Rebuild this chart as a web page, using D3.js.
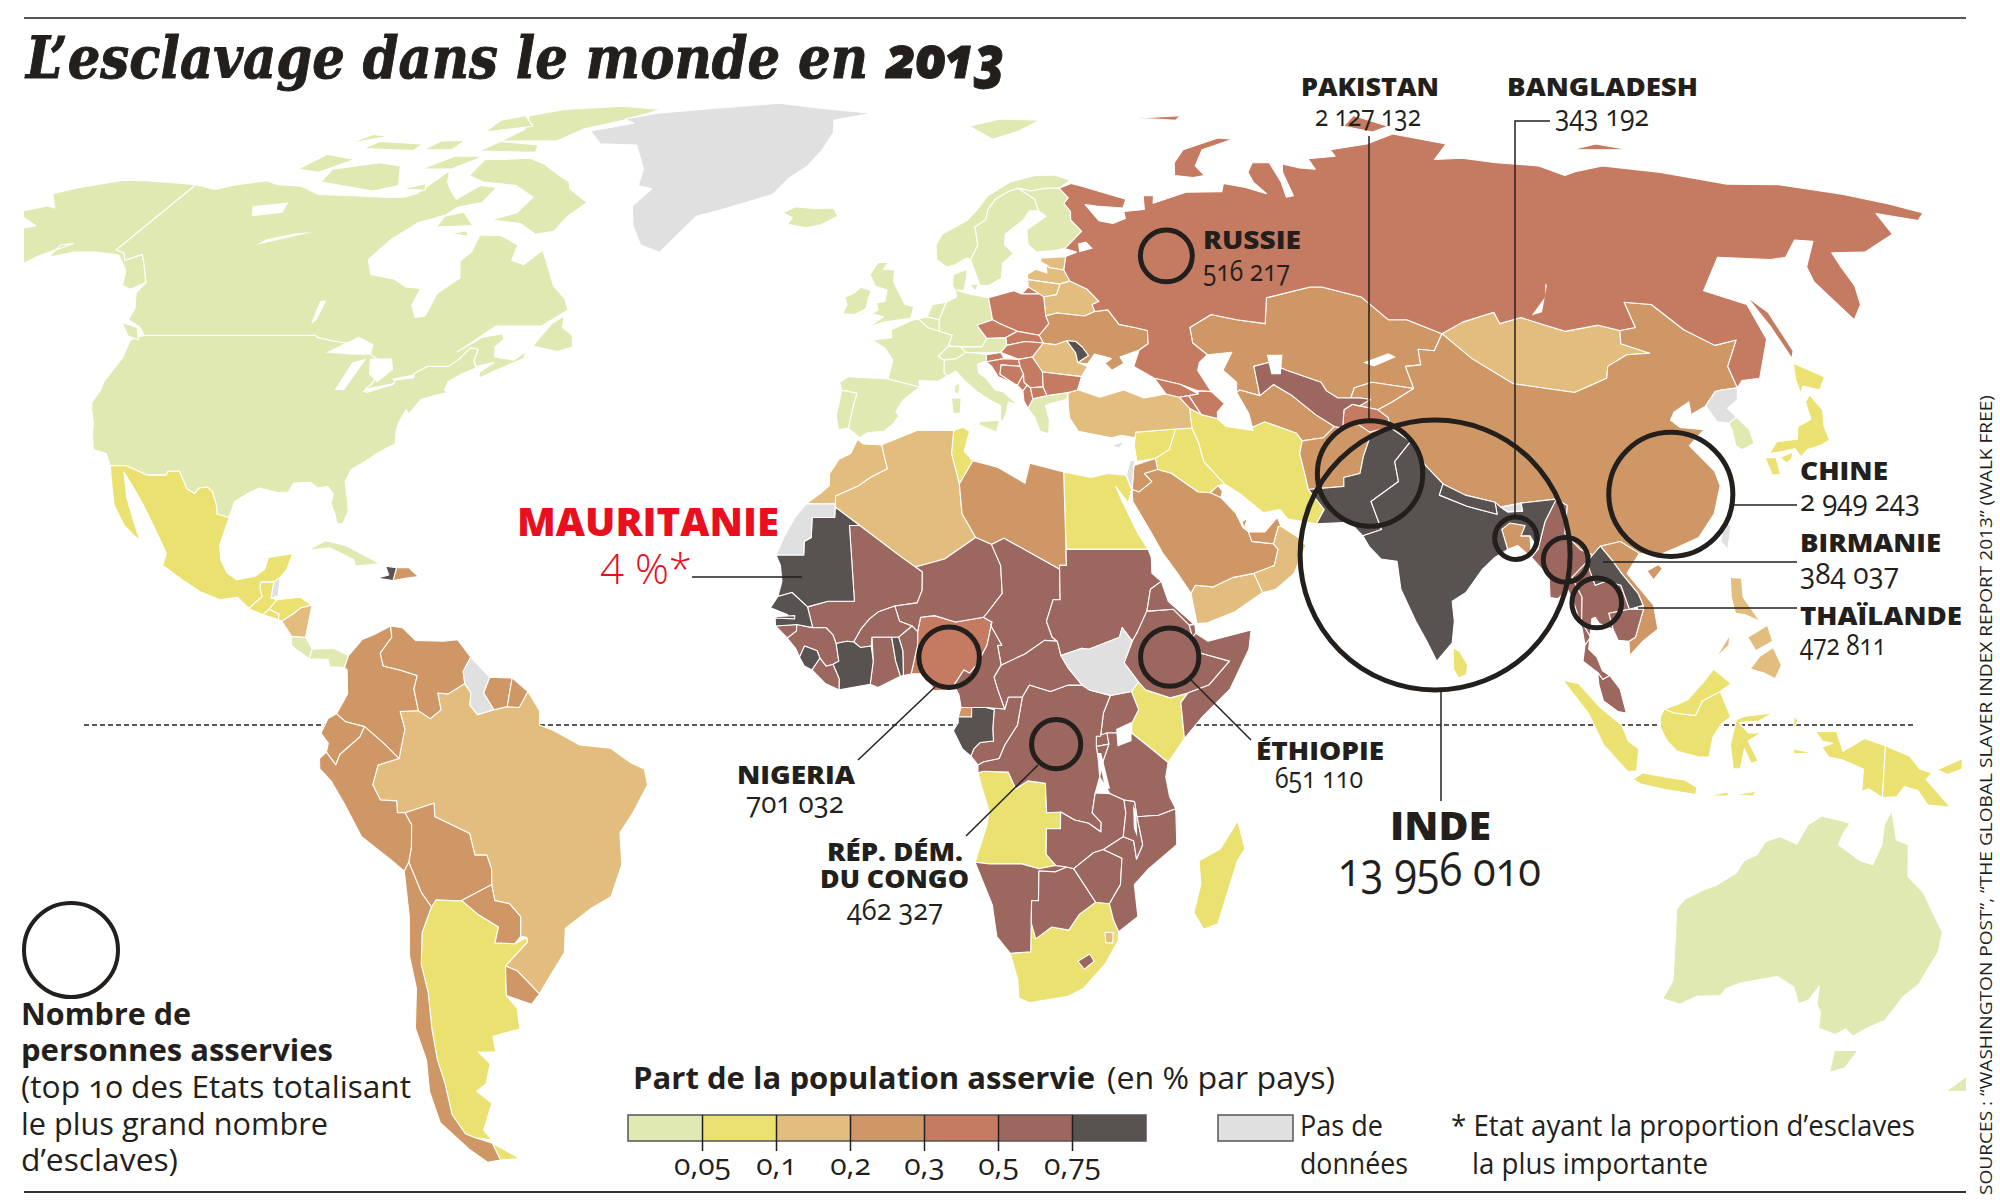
<!DOCTYPE html>
<html>
<head>
<meta charset="utf-8">
<script src="https://d3js.org/d3.v7.min.js"></script>
<style>
    body { margin: 0; background: #fff; }
    text { font-family: "Open Sans", sans-serif; fill: #231f1c; }
    .old { font-variant-numeric: oldstyle-nums; }
</style>
</head>
<body>
<div id="chart"></div>
<script>
// legend bands
var bandColors = ["#e0e9b1", "#ebe170", "#e3bd7e", "#cf9766", "#c57b62", "#9c675e", "#585250"];
var noDataColor = "#e0e0e0";
var bandTicks = ["0,05", "0,1", "0,2", "0,3", "0,5", "0,75"];

// top 10 countries: enslaved people, and where the circle sits (lon, lat)
var topNames = ["INDE", "CHINE", "PAKISTAN", "NIGERIA", "ÉTHIOPIE", "RUSSIE", "THAÏLANDE", "RÉP. DÉM. DU CONGO", "BIRMANIE", "BANGLADESH"];
var topValues = [13956010, 2949243, 2127132, 701032, 651110, 516217, 472811, 462327, 384037, 343192];
var topLon = [78.4, 114.3, 70.5, 8.1, 39.5, 45.8, 100.9, 23.3, 97.2, 90.4];
var topLat = [21.3, 28.9, 31.5, 8.5, 8.5, 59.5, 15.3, -2.4, 20.7, 23.4];

// country outlines, lon/lat, one array per band
var band0 = [
    ["USA", [[-124.7,48.4],[-123,49],[-95.2,49],[-94.6,48.7],[-92,48.3],[-89.6,48],[-88.4,48.3],[-84.9,46.9],[-84.5,46.4],[-83.6,46.1],[-82.5,45.3],[-82.1,43.6],[-82.5,42.6],[-83.1,42.2],[-82.7,41.7],[-79,42.8],[-79,43.3],[-76.8,43.6],[-76.3,44.2],[-74.8,45],[-71.5,45],[-70.3,45.9],[-69.2,47.4],[-68.3,47.3],[-67.8,47.1],[-67.8,45.7],[-67,44.8],[-69,44],[-70.6,43.1],[-70.7,42],[-70,41.7],[-71.5,41.4],[-73.8,40.8],[-74,40.4],[-74.9,39],[-75.5,39.5],[-76,38],[-76,37],[-75.9,36.5],[-75.5,35.2],[-77,34.5],[-78,33.9],[-79.3,33],[-81,32],[-81.4,30.5],[-80.5,28.3],[-80,26.8],[-80.4,25.2],[-81.2,25.2],[-81.9,26.5],[-82.8,27.8],[-82.7,28.9],[-83.8,29.9],[-85.2,29.7],[-86.5,30.4],[-89,30.3],[-89.4,29.2],[-90.9,29.1],[-93.8,29.7],[-95,29.2],[-97,28],[-97.2,26],[-99.1,26.4],[-99.5,27.5],[-100.6,29.2],[-101.5,29.8],[-102.7,29.7],[-103.2,29],[-104.5,29.6],[-106.5,31.8],[-108.2,31.8],[-108.2,31.3],[-111,31.3],[-114.8,32.5],[-117.1,32.5],[-118.4,34],[-120.6,34.5],[-121.9,36.6],[-122.5,37.8],[-123.8,39.5],[-124.4,40.4],[-124.2,42],[-124.5,43],[-124,46.2]]],
    ["Alaska", [[-141,69.6],[-141,60.3],[-139,59.9],[-137.5,58.9],[-135.5,59.7],[-133.5,58.4],[-130,55.9],[-131.5,55],[-133.5,55.5],[-135.5,57.5],[-137,58.3],[-139.5,59.6],[-144,60],[-148,60],[-151.5,59.3],[-152,61],[-150,61.2],[-153.5,59.5],[-156,57.5],[-158.5,56],[-162,55],[-164.5,54.6],[-161,56],[-158,57.9],[-157.3,58.8],[-162,58.7],[-165,60.5],[-166,61.7],[-164.5,63],[-161,63.7],[-164,64.5],[-168,65.6],[-164,66.5],[-162,66.2],[-163.7,67],[-166.5,68.3],[-163,69.2],[-156.6,70.3],[-152,70.2],[-146,69.9]]],
    ["Canada", [[-141,69.6],[-136,68.9],[-133,69.6],[-128,70.2],[-125,69.6],[-120,69.4],[-115,68.2],[-108,68],[-102,67.8],[-98,67.8],[-96,68.3],[-94,71.8],[-92,70],[-90,68.8],[-87.5,67.5],[-85,69.5],[-81.5,69.2],[-82,67],[-86,66.3],[-87,65.2],[-91,64.1],[-93.5,61.8],[-94.8,59],[-92.5,57],[-88,56.4],[-85,55.3],[-82.3,55.1],[-82.2,52.9],[-80.5,51.3],[-79,51.5],[-79,54.5],[-76.7,56.5],[-78.5,58.8],[-77.5,60],[-78,62.4],[-74,62.3],[-70,61],[-69.5,58.9],[-67,58.3],[-65,60.3],[-62,57.5],[-60,55.5],[-57,53.7],[-55.8,52.3],[-59,50.2],[-66.5,50.2],[-69,48.3],[-71,46.9],[-68,48.7],[-65,49.2],[-64.3,48.5],[-65.3,47.5],[-64.7,46.2],[-61.5,45.8],[-60,46.9],[-60,46],[-63.5,44.6],[-66,43.5],[-66.2,44.3],[-64.5,45.5],[-67,45],[-67.8,45.7],[-67.8,47.1],[-68.3,47.3],[-69.2,47.4],[-70.3,45.9],[-71.5,45],[-74.8,45],[-76.3,44.2],[-76.8,43.6],[-79,43.3],[-79,42.8],[-82.7,41.7],[-83.1,42.2],[-82.5,42.6],[-82.1,43.6],[-82.5,45.3],[-83.6,46.1],[-84.5,46.4],[-84.9,46.9],[-88.4,48.3],[-89.6,48],[-92,48.3],[-94.6,48.7],[-95.2,49],[-123,49],[-124.5,50],[-127.5,51],[-128,52.5],[-130,54.5],[-130,55.9],[-133.5,58.4],[-135.5,59.7],[-137.5,58.9],[-139,59.9],[-141,60.3]]],
    ["Baffin", [[-80,73.7],[-76,72.8],[-71,71],[-68,70],[-67,69],[-62,67],[-64,65],[-65,62.9],[-68,62.5],[-72,64],[-78,64.5],[-74,65.5],[-73,67.8],[-78,69.5],[-85,70],[-89,71],[-89,73.5],[-85,73.5]]],
    ["Victoria", [[-117,70],[-105,68.7],[-101,69.5],[-105,72.5],[-110,73],[-118,72]]],
    ["Banks", [[-125,72],[-123,74.3],[-116,73.5],[-120,71.5]]],
    ["Ellesmere", [[-90,76.5],[-78,76.5],[-75,78.5],[-68,80],[-62,82.3],[-72,83],[-85,82.3],[-91,81],[-88,78.5]]],
    ["Devon", [[-92,74.8],[-80,74.6],[-81,75.8],[-90,76.4]]],
    ["Axel Heiberg", [[-96,78],[-87,79],[-92,81],[-96,80]]],
    ["Melville", [[-117,75.2],[-106,74.9],[-106,76],[-116,76.4]]],
    ["Prince Patrick", [[-122,76],[-116,77.3],[-120,77.6]]],
    ["Bathurst", [[-104,75],[-98,75],[-98,76.6],[-103,76.5]]],
    ["King William", [[-99.5,69],[-95,68.8],[-96,69.8]]],
    ["Southampton", [[-87,63.5],[-80.5,63.7],[-84,65.6],[-87,65]]],
    ["Coats", [[-83.5,62.6],[-80,62.2],[-81,63]]],
    ["Somerset", [[-100,72],[-94,72],[-90,74],[-96,74]]],
    ["Newfoundland", [[-59.3,47.6],[-55,46.9],[-52.8,47.5],[-53.5,49],[-55.5,50],[-56,51.5],[-57.5,50.5]]],
    ["Vancouver", [[-128.3,50.7],[-125,50],[-123.4,48.4],[-125.5,48.9]]],
    ["Iceland", [[-24,65.5],[-22,66.4],[-18,66.1],[-14.7,66.2],[-13.6,65],[-16.5,63.8],[-19,63.4],[-22.6,63.9],[-22,64.8]]],
    ["Ireland", [[-10,51.8],[-8,51.7],[-6.2,52.5],[-6,53.8],[-5.7,54.8],[-7.5,55.3],[-8.5,54.5],[-10,54],[-9.5,53]]],
    ["UK", [[-5.5,50.1],[-3,50.7],[1.3,51.2],[1.7,52.7],[0.2,53],[-1,54.6],[-2,56],[-2,57.6],[-4,57.7],[-3.2,58.6],[-5,58.6],[-6.2,57],[-5,55.4],[-3,54.9],[-3.2,53.4],[-4.6,53.2],[-4.2,52.3],[-5.2,51.8],[-3.2,51.4]]],
    ["France", [[-1.8,43.4],[-1.2,45.8],[-2.5,47.3],[-4.7,48.4],[-1.6,48.7],[-1.8,49.7],[1.5,50.9],[2.6,51.1],[4.2,50],[6.1,49.5],[8.2,49],[7.6,47.6],[6,46.3],[7,45.8],[7,44.2],[7.5,43.8],[6,43.1],[3.1,43.2],[3.2,42.4]]],
    ["Spain", [[-9.3,43],[-8,43.7],[-1.8,43.4],[3.2,42.4],[0.7,40.7],[-0.3,39.3],[0.2,38.7],[-0.7,37.7],[-2,36.8],[-4.5,36.6],[-5.6,36],[-7.4,37.2],[-7,39.5],[-6.5,41.6],[-8.2,41.9],[-8.9,41.9]]],
    ["Portugal", [[-8.9,41.9],[-8.2,41.9],[-6.5,41.6],[-7,39.5],[-7.4,37.2],[-8.9,37],[-9.4,38.7]]],
    ["Belgium", [[2.6,51.1],[4,51.4],[6,51],[6.1,49.5],[4.2,50]]],
    ["Netherlands", [[4,51.4],[4.8,53],[7.1,53.3],[6,51]]],
    ["Germany", [[6,51],[7.1,53.3],[8.8,54],[8.6,54.9],[11,54.4],[14.2,53.9],[14.8,51],[12.2,50.3],[13.8,48.6],[13,47.5],[7.6,47.6],[8.2,49],[6.1,49.5]]],
    ["Denmark", [[8.1,55.5],[8.6,54.9],[10,54.8],[10.5,56.5],[10.6,57.7],[8.2,57]]],
    ["Zealand", [[11,55.7],[12.6,55.7],[12,54.8]]],
    ["Switzerland", [[6,46.3],[7.6,47.6],[9.6,47.5],[10.4,46.8],[9,46],[7,45.8]]],
    ["Austria", [[9.6,47.5],[13,47.5],[13.8,48.6],[16.9,48.7],[17,47.7],[16,46.8],[12.4,46.7],[10.4,46.8]]],
    ["Italy", [[7,45.8],[9,46],[10.4,46.8],[12.4,46.7],[13.7,46.5],[13.7,45.7],[12.3,45.3],[12.4,44.2],[13.6,43.5],[15,42],[16.2,41.8],[18.4,40.2],[17,40.5],[16.6,39],[16,38],[15.7,38.2],[15.8,40],[14,40.8],[12.2,41.8],[10.5,43],[8.8,44.4],[7.5,43.8],[7,44.2]]],
    ["Sicily", [[12.5,38],[15.6,38.2],[15.1,36.7],[12.5,37.6]]],
    ["Sardinia", [[8.2,41],[9.7,41],[9.6,39.1],[8.5,39]]],
    ["Corsica", [[8.7,42.6],[9.5,42.9],[9.3,41.4],[8.7,41.7]]],
    ["Norway", [[5,61],[5.2,59],[7,58],[8.5,58.3],[10.5,59.2],[11.2,59],[12.5,61],[12,63.5],[14,64.5],[14.5,66],[16,67.5],[18.5,68.6],[20.5,69.1],[23,68.7],[25.7,69.1],[28.5,69.1],[31,70.3],[28,71.1],[24,71],[19,70],[14.5,68],[12.5,66],[10.5,64.4],[6,62.5]]],
    ["Sweden", [[11.2,59],[12.8,55.5],[14.3,55.5],[16.5,56.5],[16.8,58.5],[18.8,59.8],[17.3,61],[17.5,62.5],[21,64.5],[22.3,65.8],[24,65.8],[23.5,67.5],[20.5,69.1],[18.5,68.6],[16,67.5],[14.5,66],[14,64.5],[12,63.5],[12.5,61]]],
    ["Finland", [[24,65.8],[25.3,65],[21.5,63.1],[21.5,61],[23,60],[25.5,60.2],[28,60.5],[31.5,62.9],[29.8,64.5],[30,65.7],[29,66.9],[30,67.7],[28.5,69.1],[25.7,69.1],[23,68.7],[20.5,69.1],[23.5,67.5]]],
    ["Svalbard", [[11,79],[16,76.8],[22,78.2],[27,80],[18,80.3]]],
    ["Greece", [[20,39.7],[20.8,40.9],[23,41.3],[26.3,41.7],[26,40.8],[23.5,40.3],[22.7,40],[23.2,38.2],[23,36.5],[21.7,36.8],[21,38.5]]],
    ["Cuba", [[-84.9,21.9],[-82.5,23.1],[-79.5,22.5],[-76,21],[-74.2,20.2],[-77.7,19.9],[-78,20.7],[-81.8,22.2]]],
    ["Costa Rica", [[-85.7,11.1],[-83.7,11],[-82.6,9.5],[-83,8.3],[-85.6,9.9]]],
    ["Panama", [[-83,8.3],[-82.6,9.5],[-79.6,9.6],[-77.4,8.7],[-77.9,7.2],[-80,7.3],[-80.3,8.2]]],
    ["South Korea", [[126.7,37.8],[128.3,38.6],[129.4,37],[129.2,35.3],[127,34.5],[126.3,35],[126.7,36.8]]],
    ["Australia", [[142.5,-10.7],[143.7,-14.4],[145.5,-15],[146.3,-19],[149,-21],[151,-23.5],[153.2,-26],[153.5,-28.5],[152.5,-32.5],[151,-34],[150,-37],[148,-37.9],[146.3,-39],[144.7,-38.1],[143.5,-38.8],[140.5,-38],[139.6,-36],[138.5,-35],[137.8,-32.7],[137,-34.5],[135.7,-34.9],[134,-32.8],[131,-31.5],[126,-32.3],[124,-33],[123.5,-33.9],[120,-34],[117.9,-35],[115,-34.3],[115.7,-32],[114.2,-26],[113.7,-23],[114.7,-21.8],[117,-20.7],[119,-20],[121.5,-18.5],[122.3,-17],[124,-16.3],[125,-14.6],[127,-14],[129.5,-14.9],[130.8,-12.5],[132.6,-11.4],[135.5,-12],[136.8,-12.3],[136,-13.5],[135.5,-15],[139,-17],[140.9,-17.5],[141.7,-15],[141.7,-12.5]]],
    ["Tasmania", [[144.7,-40.8],[148.3,-40.8],[148,-43],[146,-43.6]]],
    ["New Zealand", [[166.5,-46],[170.7,-46],[172,-44],[174,-42],[172.7,-40.5],[168,-44]]]
];

var band1 = [
    ["Mexico", [[-117.1,32.5],[-114.8,32.5],[-111,31.3],[-108.2,31.3],[-108.2,31.8],[-106.5,31.8],[-104.5,29.6],[-103.2,29],[-102.7,29.7],[-101.5,29.8],[-100.6,29.2],[-99.5,27.5],[-99.1,26.4],[-97.2,26],[-97.8,22.5],[-97.2,20.6],[-96,19],[-94.5,18.2],[-92,18.6],[-90.7,19.5],[-90.4,21],[-87,21.5],[-87.5,19.5],[-88.3,18.5],[-89.1,17.9],[-91,17.9],[-91,17.2],[-90.5,16.1],[-92.2,14.6],[-94,16],[-96.5,15.7],[-99.5,16.7],[-102,18],[-105.5,20],[-105.3,21.5],[-106.8,23.5],[-109.3,26.5],[-110.5,27.8],[-112.7,30],[-114.7,31.7],[-113,28.5],[-111,25.5],[-109.5,23.2],[-110.3,23.6],[-112.2,25],[-114.5,27.5],[-115.7,30]]],
    ["Guatemala", [[-92.2,14.6],[-90.5,16.1],[-91,17.2],[-91,17.9],[-89.1,17.9],[-89.2,15.9],[-88.3,15.7],[-89.3,14.5],[-90.1,13.8]]],
    ["El Salvador", [[-90.1,13.8],[-89.3,14.5],[-87.8,13.9],[-87.8,13.2]]],
    ["Honduras", [[-89.3,14.5],[-88.3,15.7],[-85,16],[-83.2,15],[-84.7,14.7],[-85.8,13.9],[-87.3,13],[-87.8,13.2],[-87.8,13.9]]],
    ["Argentina", [[-66.3,-21.9],[-63.9,-22],[-62.6,-22],[-60.5,-23.7],[-57.7,-25.3],[-58.6,-27.3],[-55.7,-27.4],[-53.8,-26.6],[-53.8,-27.2],[-57.6,-30.2],[-58.4,-33.9],[-57.2,-35.5],[-57.6,-38.1],[-62,-39],[-62.3,-41],[-65,-41],[-63.8,-42.5],[-65.5,-45],[-67.5,-46],[-65.8,-47.5],[-69,-51],[-68.4,-52.3],[-71,-52],[-72.3,-51.5],[-73,-49],[-72,-45],[-71.8,-42],[-71,-38],[-70,-33.5],[-70,-30],[-69,-26],[-67.1,-22.8]]],
    ["Tierra del Fuego", [[-68.6,-52.7],[-68.6,-54.9],[-65.2,-54.7]]],
    ["Tunisia", [[8.6,36.9],[10,37.3],[11,36.8],[10.2,34.3],[11.5,33.1],[9.5,30.2],[8.3,34]]],
    ["Egypt", [[25,31.7],[29,31],[31.5,31.5],[34.2,31.3],[34.9,29.5],[34.3,27.8],[32.6,29.9],[33.5,27.9],[35.5,24],[36.9,22],[25,22]]],
    ["Kenya", [[34,4.2],[35,5.4],[36,4.4],[39.5,3.4],[42,4],[41,2.8],[41.5,-1.7],[39.2,-4.7],[37.7,-3.6],[34,-1],[34,0.2],[35,1.9]]],
    ["Angola", [[11.8,-17.2],[13.5,-12.5],[13.8,-10.8],[13,-8.5],[12.2,-6],[13,-5.8],[16.5,-5.9],[17.6,-8],[19.3,-7],[21.8,-7.3],[22,-11],[24,-10.9],[24,-13],[22,-13],[22,-16.2],[23.4,-17.6],[21,-18],[18.5,-17.4],[13.9,-17.4]]],
    ["South Africa", [[17,-28.6],[20,-28.4],[20,-24.8],[20.7,-26.8],[23,-25.3],[25.5,-25.7],[27,-23.7],[29.3,-22.2],[31.3,-22.4],[32,-24.5],[32.8,-25.9],[32.8,-27],[31,-30],[28,-33],[25.7,-34],[20,-34.8],[18.4,-34.2],[18.2,-32]]],
    ["Madagascar", [[49.3,-12],[50.5,-15.5],[49.5,-17],[47.2,-24.9],[45.2,-25.6],[43.6,-23.5],[44.4,-20],[44,-17],[47,-15.5]]],
    ["Syria", [[36.2,36.7],[38,36.8],[42.3,37.1],[41,34.5],[38.8,33.4],[36,33],[35.8,35]]],
    ["Iraq", [[42.3,37.1],[44.8,37.2],[45.5,35.5],[46,33],[48.7,30.2],[47.7,30],[46.5,29.1],[44.7,29.2],[41,31.5],[39,32],[38.8,33.4],[41,34.5]]],
    ["Iran", [[44.8,39.7],[46.5,38.9],[48.9,38.4],[50,37.4],[54,36.9],[54,37.3],[56,38],[60.5,36.6],[61.2,35.6],[60.5,34],[60.8,31.5],[61,29.5],[63,27],[61.6,25.2],[57.5,25.8],[56.5,27],[54,26.6],[50.8,29],[48.7,30.2],[46,33],[45.5,35.5],[44.8,37.2]]],
    ["Sri Lanka", [[79.9,9.7],[80.8,9.2],[81.9,7.5],[81.6,6.3],[80.5,5.9],[79.8,7]]],
    ["Japan", [[130.9,34],[132.7,35.5],[136,35.8],[137,37.4],[139.5,38.3],[140,40.5],[141.3,41.4],[142,39.5],[141,37.5],[140.8,35.7],[139,35],[136.8,34.5],[135.5,33.6],[135,34.6],[132.5,34.2]]],
    ["Hokkaido", [[140,41.5],[140.5,43.3],[141.7,45.4],[145.3,43.7],[143.3,42],[141,42.5]]],
    ["Kyushu", [[130,33.5],[131.7,33.5],[131.4,31.4],[130.2,31.3]]],
    ["Shikoku", [[132.3,33.5],[134.5,34.2],[134,33.4],[133,32.8]]],
    ["Kalimantan", [[109,1],[109.6,2],[111,1.5],[114,1.2],[115,3],[117.6,4.2],[119,1],[117.5,0],[116.5,-1.5],[116,-4],[114.5,-4],[111.5,-3.3],[110,-2],[109,-0.3]]],
    ["Sabah", [[109.6,2],[111.3,2.5],[113,3.2],[115.2,5.3],[116.8,7],[119.2,5.2],[117.6,4.2],[115,3],[114,1.2],[111,1.5]]],
    ["Sumatra", [[95.3,5.6],[97.5,5.2],[100.5,2.2],[103.5,0],[104.5,-2],[106,-3],[105.8,-5.8],[104.5,-5.8],[101,-2.5],[98.8,1.5]]],
    ["Java", [[105.3,-6.8],[106.7,-6],[110.5,-6.6],[112.7,-6.9],[114.5,-7.8],[114.4,-8.7],[110,-8.1],[106.5,-7.4]]],
    ["Lombok", [[116,-8.9],[119,-8.4],[119,-8.9]]],
    ["Flores", [[119.8,-8.8],[123,-8.3],[122.5,-8.9]]],
    ["Timor", [[123.6,-10.3],[127,-8.4],[125,-9.5]]],
    ["Sulawesi", [[119.5,-5.5],[119,-2.5],[119.8,0.7],[121,1.1],[125,1.5],[123,0.5],[120.2,0.3],[121.5,-1],[123.3,-1],[121.5,-2],[123,-4.5],[122,-4.8],[121,-3],[120.5,-5.5]]],
    ["Halmahera", [[127.5,2],[128.5,0.5],[127.8,-0.7],[128,1]]],
    ["Seram", [[128,-3],[130.8,-3.5],[128,-3.6]]],
    ["Papua", [[131,-0.8],[134,-0.8],[135,-3.3],[138,-1.7],[141,-2.6],[141,-9.1],[139,-8],[138,-8.3],[138,-5.5],[135,-4.4],[133,-4],[132,-2.8],[133.5,-2.3],[132,-2]]],
    ["PNG", [[141,-2.6],[144.5,-3.9],[146,-5.5],[147.8,-6],[147,-6.8],[150.8,-10.3],[147.5,-10],[146,-8.2],[144,-7.7],[143,-9],[141,-9.1]]],
    ["New Britain", [[148.5,-5.6],[152,-4.2],[152,-5.5],[150,-6.2]]],
    ["New Ireland", [[150.8,-2.7],[153,-4.6],[152.5,-4]]]
];

var band2 = [
    ["Nicaragua", [[-87.3,13],[-85.8,13.9],[-84.7,14.7],[-83.2,15],[-83.7,11],[-85.7,11.1]]],
    ["Brazil", [[-51.7,4.2],[-50,1.8],[-50,0],[-48,-0.7],[-44.3,-2.5],[-40,-2.9],[-37,-4.8],[-35.2,-5.5],[-34.8,-7.5],[-37,-11],[-39,-13.5],[-39,-17.5],[-40.9,-21.5],[-44,-23],[-48,-25.5],[-48.6,-28.5],[-52,-32.2],[-53.4,-33.7],[-56,-30.8],[-57.6,-30.2],[-53.8,-27.2],[-53.8,-26.6],[-54.7,-26.5],[-54.3,-24],[-55.7,-22.4],[-57.8,-22],[-58,-20],[-57.8,-18],[-58.3,-16.3],[-60,-16.3],[-60.5,-13.6],[-65.3,-11.5],[-65.3,-9.8],[-69.5,-11],[-70.6,-11],[-70.6,-9.5],[-72.9,-9.4],[-73.9,-7.5],[-73,-5],[-70,-4.2],[-69.1,-0.5],[-69.8,1.7],[-67.2,1.8],[-65.5,0.8],[-64,1.9],[-64.5,4],[-63,3.9],[-60.7,5.2],[-59.8,4],[-59.9,2.5],[-58.8,1.3],[-56.5,1.9],[-54.6,2.3],[-52.9,2.2]]],
    ["Estonia", [[23.5,59.2],[28,59.4],[27.4,57.6],[25,57.9],[24.4,58.3],[23.5,58.7]]],
    ["Latvia", [[21,57],[22.5,57.7],[24.4,57.2],[24.4,58.3],[25,57.9],[27.4,57.6],[28.2,56.1],[26.5,55.7],[21,56.3]]],
    ["Lithuania", [[21,56.3],[26.5,55.7],[25.7,54.3],[23.5,54],[22.8,54.4],[21,55.3]]],
    ["Belarus", [[26.5,55.7],[28.2,56.1],[31,55],[32.7,53.4],[31.5,53],[31.8,52.1],[30,51.5],[25.5,51.9],[23.6,51.5],[23.5,54],[25.7,54.3]]],
    ["Romania", [[21,46.2],[22.9,48],[24.9,47.8],[26.7,48.3],[28,46.7],[28.2,45.5],[29.7,45],[28.6,43.7],[22.5,44.3]]],
    ["Turkey", [[26.3,41.7],[28,42],[31.2,41.1],[35,42],[38,41],[41.5,41.5],[43.5,41.1],[44.8,39.7],[44.8,37.2],[42.3,37.1],[38,36.8],[36.2,36.7],[36,36],[34,36.3],[32.5,36],[30.5,36.3],[27.5,36.8],[26.3,38.5],[26.2,40]]],
    ["Mongolia", [[87.8,49.2],[92,50.7],[98,52],[98,50.5],[102,51.3],[105,50.4],[108,49.5],[114,50.3],[117,49.6],[116,47.9],[119.8,46.7],[116,46.5],[112,45],[111,43.5],[105,41.7],[96,42.8],[91,46]]],
    ["Yemen", [[42.8,16.5],[43.5,17.5],[46,17.3],[49,18.5],[52,19],[53.1,16.6],[49,14.2],[45,12.8],[43.5,12.7]]],
    ["Oman", [[52,19],[55,20],[55.7,22],[55.1,22.7],[56,24.9],[56.4,24.9],[58.8,23.5],[59.8,22.5],[57.8,19],[55,17],[53.1,16.6]]],
    ["Morocco", [[-5.9,35.8],[-5,35.2],[-2.2,35.1],[-1.7,33.5],[-1.2,32.1],[-3.7,31],[-5.5,29.9],[-8.7,28.7],[-8.7,27.7],[-13,27.7],[-11,29],[-9.7,30],[-9.8,31.5],[-8.5,33.3],[-6.8,34]]],
    ["Algeria", [[-2.2,35.1],[3,36.9],[8.6,36.9],[8.3,34],[9.5,30.2],[9.9,26.5],[11.9,23.5],[7.4,20.8],[3.2,19.8],[1.2,21],[-5,25],[-8.7,27.3],[-8.7,28.7],[-5.5,29.9],[-3.7,31],[-1.2,32.1],[-1.7,33.5]]],
    ["Swaziland", [[30.8,-26],[32,-26],[32,-27.3],[31,-27.3]]],
    ["Luzon", [[120.3,16],[120.6,18.5],[122.2,18.4],[122,16],[124,13],[122,13.8],[120.6,14]]],
    ["Mindanao", [[122,7],[123.5,8.6],[125.5,9.7],[126.5,7.5],[125.5,5.8],[124,6.5]]],
    ["Visayas", [[122,11],[125,12.5],[125.5,10.5],[123,9.3]]],
    ["Palawan", [[117.2,8.4],[119.5,11.3],[119.2,10]]]
];

var band3 = [
    ["Dominican Rep.", [[-71.7,19.7],[-72,18.1],[-70,18.4],[-68.4,18.6],[-69.9,19.7]]],
    ["Colombia", [[-77.4,8.7],[-75.6,10.7],[-74,11.3],[-71.7,12.4],[-71.4,11],[-72.9,9],[-72.4,7.4],[-70,6.9],[-67.5,6.2],[-67.9,4.5],[-67.2,1.8],[-69.8,1.7],[-69.1,-0.5],[-70,-4.2],[-72,-2.4],[-74.8,-0.2],[-77.5,0.4],[-78.8,1.4],[-77.3,3.9],[-77.5,6.9],[-77.9,7.2]]],
    ["Venezuela", [[-71.7,12.4],[-70,12.2],[-68,10.6],[-64,10.5],[-62,10.7],[-60,8.5],[-61,6.7],[-60.7,5.2],[-63,3.9],[-64.5,4],[-64,1.9],[-65.5,0.8],[-67.2,1.8],[-67.9,4.5],[-67.5,6.2],[-70,6.9],[-72.4,7.4],[-72.9,9],[-71.4,11]]],
    ["Suriname", [[-57.2,6],[-54,5.9],[-54.6,2.3],[-56.5,1.9],[-58,4]]],
    ["French Guiana", [[-54,5.9],[-51.7,4.2],[-52.9,2.2],[-54.6,2.3]]],
    ["Ecuador", [[-78.8,1.4],[-77.5,0.4],[-74.8,-0.2],[-75.5,-1.5],[-78.4,-3.7],[-79,-5],[-80.3,-3.4],[-80,-2.3],[-81,-1],[-80,0.8]]],
    ["Peru", [[-80.3,-3.4],[-79,-5],[-78.4,-3.7],[-75.5,-1.5],[-74.8,-0.2],[-72,-2.4],[-70,-4.2],[-73,-5],[-73.9,-7.5],[-72.9,-9.4],[-70.6,-9.5],[-70.6,-11],[-69.5,-11],[-68.7,-12.5],[-69,-15.4],[-69.6,-17.2],[-70.4,-18.3],[-72,-17],[-76,-14],[-78,-10],[-79.8,-7],[-81.3,-5.5],[-81.3,-4.2]]],
    ["Bolivia", [[-69.5,-11],[-65.3,-9.8],[-65.3,-11.5],[-60.5,-13.6],[-60,-16.3],[-58.3,-16.3],[-57.8,-18],[-58,-20],[-62.6,-22],[-63.9,-22],[-66.3,-21.9],[-67.1,-22.8],[-68.3,-21],[-69.6,-17.2],[-69,-15.4],[-68.7,-12.5]]],
    ["Chile", [[-70.4,-18.3],[-69.6,-17.2],[-68.3,-21],[-67.1,-22.8],[-69,-26],[-70,-30],[-70,-33.5],[-71,-38],[-71.8,-42],[-72,-45],[-73,-49],[-72.3,-51.5],[-71,-52],[-68.6,-52.7],[-68.6,-54.9],[-71,-55.2],[-73,-53.5],[-75.5,-50],[-75,-46],[-73.5,-42],[-73.5,-38],[-71.6,-33],[-71.5,-29],[-70.5,-24]]],
    ["Paraguay", [[-62.6,-22],[-58,-20],[-57.8,-22],[-55.7,-22.4],[-54.3,-24],[-54.7,-26.5],[-55.7,-27.4],[-58.6,-27.3],[-57.7,-25.3],[-60.5,-23.7]]],
    ["Uruguay", [[-57.6,-30.2],[-56,-30.8],[-53.4,-33.7],[-54.9,-35],[-58.4,-33.9]]],
    ["Ukraine", [[23.6,51.5],[25.5,51.9],[30,51.5],[31.8,52.1],[34,52.3],[35.5,50.4],[38,50],[40,49.6],[39.8,47.9],[38.2,47.1],[35,46.2],[35.5,45.4],[33.5,44.5],[32.5,45.4],[33.6,46],[31,46.6],[29.7,45.3],[28.2,45.5],[30,46.4],[29.2,47.4],[28.2,48.2],[26.7,48.3],[24.9,47.8],[22.9,48],[22.3,49],[24,50.5]]],
    ["Kazakhstan", [[47,50],[51,51.7],[55,51],[59.5,50.5],[61,53.9],[69,55.3],[71,55.3],[77,54],[80,51],[83,51],[87.8,49.2],[85.5,47],[83,47.2],[82.5,45.2],[80,45],[80.2,42.2],[74,43],[71,42.3],[70,41],[68,41],[66.5,41.9],[66,43],[61,44.5],[58.5,45.5],[56,45],[56,41.3],[53,42],[52.5,41.7],[52.8,43],[51,44.5],[53,46.8],[49,46.5],[47,48]]],
    ["Turkmenistan", [[52.5,41.7],[53,42],[56,41.3],[58.5,42.7],[61,41.3],[64,38.9],[66.5,37.4],[64.5,36],[61.2,35.6],[60.5,36.6],[56,38],[54,37.3],[53.8,39]]],
    ["Afghanistan", [[61.2,35.6],[64.5,36],[66.5,37.4],[67.7,37.2],[70,37.8],[71.7,36.7],[74.9,37.3],[71.5,36],[70,33.7],[69,31.5],[66.5,31],[66.3,29.9],[61,29.5],[60.8,31.5],[60.5,34]]],
    ["Kyrgyzstan", [[70,41],[71,42.3],[74,43],[80.2,42.2],[76,40.4],[73.7,39.5],[71,40],[73,40.8],[71.5,41]]],
    ["China", [[73.7,39.5],[76,40.4],[80.2,42.2],[80,45],[82.5,45.2],[83,47.2],[85.5,47],[87.8,49.2],[91,46],[96,42.8],[105,41.7],[111,43.5],[112,45],[116,46.5],[119.8,46.7],[116,47.9],[117,49.6],[119.8,50],[120.7,53.3],[125,53],[127.5,49.7],[131,47.7],[135,48.4],[131,45],[130.7,42.3],[128,42],[126.9,41.8],[124.3,40],[121.5,38.9],[122,40.5],[119,39.2],[118,38.2],[119,37.3],[122.5,37],[119.3,35],[121.8,31.8],[121.9,30],[120,26.5],[117,23.5],[113.5,22.2],[110.5,21.2],[108,21.5],[105.5,23],[102.5,22.4],[101.2,21.3],[99.5,22],[97.6,24],[98.7,27.5],[97.3,28.3],[92,27.8],[88.9,27.3],[88.2,27.9],[84,28.8],[81,30.2],[79,32.5],[77.5,35.5],[74.9,37.3],[75,38.5]]],
    ["Hainan", [[108.7,19.3],[110.5,20.1],[111,19.6],[109.5,18.2]]],
    ["Jordan", [[35,29.5],[35.5,32.5],[38.8,33.4],[39,32],[37,31.5],[38,30.5],[36,29.2]]],
    ["Saudi Arabia", [[35,29.5],[36,29.2],[38,30.5],[37,31.5],[39,32],[41,31.5],[44.7,29.2],[46.5,29.1],[48,28.5],[50,26.5],[50.8,24.8],[51.6,24.2],[52,23],[55.1,22.7],[55.7,22],[55,20],[52,19],[49,18.5],[46,17.3],[43.5,17.5],[42.8,16.5],[41,19],[39,21.5],[37.2,24.5],[35,28]]],
    ["Kuwait", [[46.5,29.1],[47.7,30],[48.3,29.3],[48,28.5]]],
    ["UAE", [[51.6,24.2],[54,24.2],[56,26],[56.4,24.9],[56,24.9],[55.1,22.7],[52,23]]],
    ["Qatar", [[51,24.6],[51.6,25.9],[50.8,25.5]]],
    ["Libya", [[11.5,33.1],[15.2,32.3],[19.2,30.3],[20,32.8],[25,31.7],[25,20],[24,20],[24,19.5],[16,23.4],[14.2,22.6],[11.9,23.5],[9.9,26.5],[9.5,30.2]]],
    ["Eq. Guinea", [[9.4,1],[11.3,1],[11.3,2.2],[9.8,2.2]]],
    ["Bangladesh", [[88.5,26.3],[89.8,25.3],[92,25],[91.2,23.7],[92.5,23.7],[92.3,21],[90.5,22.5],[89,22],[88.5,24.5]]],
    ["Vietnam", [[102.5,22.4],[105.5,23],[108,21.5],[105.8,19],[109,15],[109.3,12],[107,10.5],[105,8.7],[105,10.5],[106,11],[107.5,14.5],[107.5,15],[107,16.5],[105,19],[104,20.5]]]
];

var band4 = [
    ["Russia", [[28.5,69.1],[31,69.8],[33,69.4],[41,67.5],[40,66.2],[35,66.5],[33,66.7],[35,64.4],[37.5,64],[40,64.7],[40,65.7],[44,66],[44.5,68],[46.5,68],[46,66.9],[53,68.5],[60,68.6],[61,69.8],[65,69.2],[68.5,68.3],[67,70],[67,71.5],[69,73],[72.5,73],[72.5,70],[72,67.8],[73.5,68],[74,71.5],[75,72.8],[78,72.2],[81,72],[81,73.6],[87,74],[87,75],[96,76],[104,77.7],[113,76],[107,73.5],[113,73.7],[119,73],[127,72.5],[130,71],[133,71.6],[140,72.5],[150,71.5],[160,69.7],[170,69.6],[180,68.2],[186,66.8],[190,65.5],[187,64.4],[181,65.4],[179,62.5],[170,60],[164,59.9],[163,58],[162,55.5],[160,53],[156.7,51],[155.7,56],[157,58],[163,61.5],[160,61.7],[155,59.3],[152,59],[143,59.3],[135.5,54.8],[141,53],[140,48.5],[135,43.5],[132,43.2],[130.7,42.3],[131,45],[135,48.4],[131,47.7],[127.5,49.7],[125,53],[120.7,53.3],[119.8,50],[117,49.6],[114,50.3],[108,49.5],[105,50.4],[102,51.3],[98,50.5],[98,52],[92,50.7],[87.8,49.2],[83,51],[80,51],[77,54],[71,55.3],[69,55.3],[61,53.9],[59.5,50.5],[55,51],[51,51.7],[47,50],[47,48],[49,46.5],[47.5,45.5],[47,44.5],[48.6,41.8],[46.5,41.9],[44,42.7],[40,43.5],[37,45],[38.2,47.1],[39.8,47.9],[40,49.6],[38,50],[35.5,50.4],[34,52.3],[31.8,52.1],[31.5,53],[32.7,53.4],[31,55],[28.2,56.1],[27.4,57.6],[28,59.4],[30,60],[28,60.5],[31.5,62.9],[29.8,64.5],[30,65.7],[29,66.9],[30,67.7]]],
    ["Kaliningrad", [[21,55.3],[22.8,54.4],[19.8,54.4]]],
    ["Sakhalin", [[142,54],[143.5,52],[143,47],[142,46],[142,50]]],
    ["Novaya Zemlya", [[52,71],[55.5,70.7],[58,71],[57,72.5],[60,75],[68,76.8],[65,77],[56,75],[53,73]]],
    ["Severnaya", [[95,79],[100,78],[105,79],[100,81]]],
    ["New Siberian", [[138,75],[150,75],[145,76]]],
    ["Franz Josef", [[50,80.5],[60,81],[58,80]]],
    ["Poland", [[14.2,53.9],[18.5,54.8],[19.8,54.4],[22.8,54.4],[23.5,54],[23.6,51.5],[24,50.5],[22.3,49],[18.8,49.5],[16,50.5],[14.8,51]]],
    ["Czech Rep.", [[12.2,50.3],[14.8,51],[16,50.5],[18.8,49.5],[16.9,48.7],[13.8,48.6]]],
    ["Slovakia", [[16.9,48.7],[18.8,49.5],[22.3,49],[22.9,48],[20,48.2],[17,47.7]]],
    ["Hungary", [[17,47.7],[20,48.2],[22.9,48],[21,46.2],[18.8,45.9],[16,46.8]]],
    ["Slovenia", [[13.7,46.5],[16,46.8],[16.5,46],[13.7,45.6]]],
    ["Croatia", [[13.7,45.6],[16.5,46],[18.8,45.9],[19,45],[16,45.2],[15.8,44],[18,42.8],[15.5,43.7],[14.5,45]]],
    ["Bosnia", [[16,45.2],[19,45],[19.5,44],[18.5,42.6],[18,42.8],[15.8,44]]],
    ["Serbia", [[18.8,45.9],[21,46.2],[22.5,44.3],[22.5,42.4],[20.5,42.3],[19.5,43],[19.5,44],[19,45]]],
    ["Montenegro", [[18.5,42.6],[19.5,44],[19.5,43],[20,42.6],[19.3,41.9]]],
    ["Albania", [[19.3,41.9],[20,42.6],[20.5,42.3],[20.8,40.9],[20,39.7],[19.4,40.6]]],
    ["Macedonia", [[20.5,42.3],[22.5,42.4],[23,41.3],[20.8,40.9]]],
    ["Bulgaria", [[22.5,44.3],[28.6,43.7],[27.8,42],[26.3,41.7],[23,41.3],[22.5,42.4]]],
    ["Georgia", [[40,43.5],[41.5,41.5],[43.5,41.1],[46.5,41.5],[44,42.7]]],
    ["Armenia", [[43.5,41.1],[45,41.3],[46.5,38.9],[44.8,39.7]]],
    ["Azerbaijan", [[45,41.3],[46.5,41.5],[46.5,41.9],[48.6,41.8],[50.3,40.3],[49,39.2],[48.9,38.4],[46.5,38.9]]],
    ["Tajikistan", [[68.5,39.5],[70,40.2],[71,40],[73.7,39.5],[75,38.5],[74.9,37.3],[71.7,36.7],[70,37.8],[67.7,37.2]]],
    ["Nigeria", [[2.7,6.4],[3.6,10],[3.6,11.7],[4,13.5],[6,13.7],[9,12.9],[13,13.5],[14.2,12.9],[13.5,10],[12,7.5],[11,6.5],[10.2,6.9],[8.8,5],[8,4.4],[6,4.3],[5,5.8],[4.4,6.4]]]
];

var band5 = [
    ["Uzbekistan", [[56,45],[58.5,45.5],[61,44.5],[66,43],[66.5,41.9],[68,41],[70,41],[71.5,41],[73,40.8],[71,40],[70,40.2],[68.5,39.5],[67.7,37.2],[66.5,37.4],[64,38.9],[61,41.3],[58.5,42.7],[56,41.3]]],
    ["Mali", [[-5,25],[1.2,21],[3.2,19.8],[4.2,19.2],[4.2,16.9],[3.5,15.3],[0.3,14.9],[-2,14.2],[-3.3,13.3],[-4.5,12],[-5.5,10.4],[-6.5,10.5],[-8,10.2],[-8.5,11.3],[-9.5,12.2],[-11.4,12.2],[-12.2,14.8],[-9.3,15.5],[-5.5,15.5],[-6.5,25]]],
    ["Niger", [[4.2,19.2],[3.2,19.8],[7.4,20.8],[11.9,23.5],[14.2,22.6],[15.5,20],[15.7,16.5],[13.5,14],[13,13.5],[9,12.9],[6,13.7],[4,13.5],[3.6,11.7],[2.8,12.4],[1,13],[0.3,14.9],[3.5,15.3],[4.2,16.9]]],
    ["Chad", [[14.2,22.6],[16,23.4],[24,19.5],[24,15.7],[23,15.7],[22,13],[22.8,11],[23.5,10.5],[21.7,10.6],[18.9,8.9],[15.5,7.5],[15,10],[15.6,10],[14,12.5],[14.2,12.9],[13,13.5],[13.5,14],[15.7,16.5],[15.5,20]]],
    ["Sudan", [[25,22],[36.9,22],[37.3,21],[37.3,19],[38.6,18],[37,17],[36.4,14.3],[35,11.7],[34.2,10.5],[32.8,12.2],[32.4,11],[28,9.5],[27,9.6],[24,8.7],[23.5,10.5],[22.8,11],[22,13],[23,15.7],[24,15.7],[24,19.5],[24,20],[25,20]]],
    ["Ethiopia", [[36.4,14.3],[37,14.3],[40.2,14.5],[42.4,12.5],[42.8,11],[44,9],[48,8],[45,5],[42,4],[39.5,3.4],[36,4.4],[35,5.4],[33,7.8],[34.2,10.5],[35,11.7]]],
    ["Eritrea", [[37,17],[38.6,18],[39.5,15.5],[43,12.7],[42.4,12.5],[40.2,14.5],[37,14.3],[36.4,14.3]]],
    ["Djibouti", [[42.4,12.5],[43.2,12.6],[43.3,11.5],[42.8,11]]],
    ["Somalia", [[43.3,11.5],[45,10.5],[51.2,11.9],[50.8,9.5],[48,4.5],[44,1],[41.5,-1.7],[41,2.8],[42,4],[45,5],[48,8],[44,9],[42.8,11]]],
    ["Uganda", [[31,3.7],[34,4.2],[35,1.9],[34,0.2],[34,-1],[30.5,-1],[29.6,-1.4],[30,1.5]]],
    ["Rwanda", [[29,-1.4],[30.5,-1],[30.8,-2.4],[29,-2.7]]],
    ["Burundi", [[29,-2.7],[30.8,-2.4],[30,-4.5],[29.3,-4.4]]],
    ["Tanzania", [[34,-1],[37.7,-3.6],[39.2,-4.7],[38.9,-6.5],[39.5,-9],[40.4,-10.5],[38,-11.3],[34.9,-11.5],[34.5,-9.6],[33,-9.4],[31,-8.6],[29.5,-6.5],[30,-4.5],[30.8,-2.4],[30.5,-1]]],
    ["DR Congo", [[12.2,-6],[13,-5.8],[16.5,-5.9],[17.6,-8],[19.3,-7],[21.8,-7.3],[22,-11],[24,-10.9],[26,-11.9],[28,-12.3],[29.8,-13.4],[29.8,-12.2],[28.5,-11],[28.9,-8.5],[29.5,-6.5],[29.3,-4.4],[29,-2.7],[29,-1.4],[29.6,-1.4],[30,1.5],[31,3.7],[28,4.4],[27,5],[25,5],[22.5,4.2],[19.5,5],[18.5,3.5],[17.8,0],[16,-2.5],[15.2,-4.2],[13,-4.6],[12.2,-5]]],
    ["Congo", [[11.2,-3.9],[11.6,-3],[12.5,-2.2],[14.4,-2],[14.3,-0.5],[14.5,1.9],[13.3,2.2],[16,2],[16.5,3.5],[18.5,3.5],[17.8,0],[16,-2.5],[15.2,-4.2],[13,-4.6],[12.2,-5]]],
    ["Cameroon", [[9.8,2.2],[11.3,2.2],[13.3,2.2],[16,2],[15,4.5],[14.5,6],[15.5,7.5],[15,10],[15.6,10],[14,12.5],[14.2,12.9],[13.5,10],[12,7.5],[11,6.5],[10.2,6.9],[8.8,5],[9.5,3.8]]],
    ["CAR", [[14.5,6],[15,4.5],[16,2],[16.5,3.5],[18.5,3.5],[19.5,5],[22.5,4.2],[25,5],[27,5],[25,7.2],[24,8.7],[23.5,10.5],[21.7,10.6],[18.9,8.9],[15.5,7.5]]],
    ["Burkina Faso", [[-5.5,10.4],[-4.5,12],[-3.3,13.3],[-2,14.2],[0.3,14.9],[1,13],[2.8,12.4],[0.9,11],[-2.9,11],[-3,9.9],[-4.5,9.7]]],
    ["Benin", [[2.7,6.4],[1.6,6.2],[1.5,9.3],[0.9,11],[2.8,12.4],[3.6,11.7],[3.6,10]]],
    ["Ghana", [[-3.1,5.1],[-2,4.7],[1.2,6.1],[0.5,8],[-0.1,11],[-2.9,11],[-2.7,8]]],
    ["Liberia", [[-11.4,6.9],[-9.5,5.2],[-7.5,4.4],[-7.5,5.8],[-8.4,7.6],[-9.4,7.4],[-10.3,8.4]]],
    ["Guinea", [[-15,10.9],[-13.7,9.5],[-13.2,8.5],[-12.5,9.9],[-10.7,9.3],[-10.3,8.4],[-9.4,7.4],[-8.4,7.6],[-7.6,8],[-8,10.2],[-8.5,11.3],[-9.5,12.2],[-11.4,12.2],[-13.7,12.6],[-13.7,11.8]]],
    ["Guinea-Bissau", [[-16.7,12.4],[-13.7,12.6],[-13.7,11.8],[-15,10.9]]],
    ["Namibia", [[11.8,-17.2],[13.9,-17.4],[18.5,-17.4],[21,-18],[23.4,-17.6],[25,-17.8],[23.4,-18.4],[21,-18.3],[21,-22],[20,-22],[20,-28.4],[17,-28.6],[15,-26.5],[14.3,-22.5]]],
    ["Botswana", [[20,-22],[21,-22],[21,-18.3],[23.4,-18.4],[25,-17.8],[26,-18],[29.3,-22.2],[27,-23.7],[25.5,-25.7],[23,-25.3],[20.7,-26.8],[20,-24.8]]],
    ["Zambia", [[22,-13],[24,-13],[24,-10.9],[26,-11.9],[28,-12.3],[29.8,-13.4],[29.8,-12.2],[28.5,-11],[28.9,-8.5],[31,-8.6],[33,-9.4],[33.3,-11],[33,-14],[30.2,-15.6],[28.8,-16],[26,-18],[25,-17.8],[23.4,-17.6],[22,-16.2]]],
    ["Zimbabwe", [[26,-18],[28.8,-16],[30.2,-15.6],[32.9,-16.7],[32.8,-20],[31.3,-22.4],[29.3,-22.2]]],
    ["Mozambique", [[40.4,-10.5],[40.7,-15],[36.8,-18],[34.8,-20],[35.5,-24],[32.8,-25.9],[32,-24.5],[31.3,-22.4],[32.8,-20],[32.9,-16.7],[30.2,-15.6],[33,-14],[34.5,-14.5],[35,-16.8],[35.8,-15],[34.9,-11.5],[38,-11.3]]],
    ["Malawi", [[33,-9.4],[34.5,-9.6],[34.9,-11.5],[35.8,-15],[35,-16.8],[34.5,-14.5],[33,-14],[33.3,-11]]],
    ["Lesotho", [[27,-29.6],[28.7,-28.7],[29.4,-29.6],[28,-30.6]]],
    ["Myanmar", [[97.3,28.3],[98.7,27.5],[97.6,24],[99.5,22],[101.2,21.3],[100.2,20.4],[97.8,18.5],[98.9,16],[98.5,13],[99.6,11],[98.7,10],[98.5,12],[97.7,15],[97,16.9],[95.3,15.8],[94.3,16],[94.5,18.5],[92.3,21],[93.4,22],[95,25.5]]],
    ["Thailand", [[100.2,20.4],[101,17.5],[102.6,18],[104.7,17.5],[105.5,14.5],[102.5,14],[102.9,12],[101,12.7],[100.5,13.5],[100,13.3],[99.2,9.5],[100.3,8.5],[101,6.8],[102,6.2],[101,5.7],[100.3,6.6],[98.3,8],[98.7,10],[99.6,11],[98.5,13],[98.9,16],[97.8,18.5]]],
    ["Cambodia", [[102.5,14],[105.5,14.5],[107.5,14.5],[106,11],[105,10.5],[103.5,10.6],[102.9,12]]],
    ["Malaysia", [[100.3,6.6],[101,5.7],[102,6.2],[103.4,4.5],[104.2,1.5],[103,1.7],[101,3],[100.4,5]]]
];

var band6 = [
    ["Haiti", [[-74.4,18.4],[-72,18.1],[-71.7,19.7],[-73.3,19.9],[-72.7,18.8]]],
    ["Moldova", [[26.7,48.3],[28.2,48.2],[29.2,47.4],[30,46.4],[28.2,45.5],[28,46.7]]],
    ["Pakistan", [[61,29.5],[66.3,29.9],[66.5,31],[69,31.5],[70,33.7],[71.5,36],[74.9,37.3],[77.5,35.5],[74.5,33],[74.5,30.5],[70,28],[71,24.5],[68.2,23.7],[66.5,25.4],[61.6,25.2],[63,27]]],
    ["India", [[77.5,35.5],[79,32.5],[81,30.2],[80.2,28.8],[84,27.4],[88.2,26.4],[88.2,27.9],[88.9,27.3],[89.8,26.7],[92,26.8],[92,27.8],[97.3,28.3],[95,25.5],[93.4,22],[92.5,23.7],[91.2,23.7],[92,25],[89.8,25.3],[88.5,24.5],[89,22],[87,21],[85,19.5],[82.3,16.6],[80.2,15.5],[80.3,13],[79.8,10.3],[77.5,8],[76.2,10.5],[74.8,13],[73,17],[72.8,20.5],[70.5,20.8],[69,22.3],[68.2,23.7],[71,24.5],[70,28],[74.5,30.5],[74.5,33]]],
    ["Nepal", [[80.2,28.8],[81,30.2],[84,28.8],[88.2,27.9],[88.2,26.4],[84,27.4]]],
    ["Laos", [[101.2,21.3],[102.5,22.4],[104,20.5],[105,19],[107,16.5],[107.5,15],[105.5,14.5],[104.7,17.5],[102.6,18],[101,17.5],[100.2,20.4]]],
    ["Mauritania", [[-8.7,27.3],[-5,25],[-6.5,25],[-5.5,15.5],[-9.3,15.5],[-12.2,14.8],[-14.5,16.6],[-16.5,16.1],[-16,18],[-16.3,20],[-17,21.3],[-13,21.3],[-13,23],[-12,23.5],[-12,26],[-8.7,26]]],
    ["Senegal", [[-16.5,16.1],[-14.5,16.6],[-12.2,14.8],[-11.4,12.2],[-13.7,12.6],[-16.7,12.4],[-16.8,13.4],[-15,13.5],[-15,13.8],[-17.5,14.7]]],
    ["Gambia", [[-16.8,13.4],[-14,13.3],[-14,13.7],[-16.5,13.6]]],
    ["Sierra Leone", [[-13.2,8.5],[-12.5,7.4],[-11.4,6.9],[-10.3,8.4],[-10.7,9.3],[-12.5,9.9]]],
    ["Ivory Coast", [[-7.5,4.4],[-3.1,5.1],[-2.7,8],[-3,9.9],[-4.5,9.7],[-5.5,10.4],[-6.5,10.5],[-8,10.2],[-7.6,8],[-8.4,7.6],[-7.5,5.8]]],
    ["Togo", [[1.2,6.1],[1.6,6.2],[1.5,9.3],[0.9,11],[-0.1,11],[0.5,8]]],
    ["Gabon", [[8.7,-0.7],[9.4,0.3],[9.4,1],[11.3,1],[11.3,2.2],[13.3,2.2],[14.5,1.9],[14.3,-0.5],[14.4,-2],[12.5,-2.2],[11.6,-3],[11.2,-3.9],[10,-3]]]
];

var noData = [
    ["Greenland", [[-73,78.2],[-68,76],[-60,75.8],[-55,72],[-54,69.5],[-51,69],[-53,66.5],[-51,63.7],[-48,61],[-44,60],[-42.5,62],[-40,65],[-36,65.9],[-27,68.2],[-25,70.5],[-22,72.5],[-20,75],[-19,78],[-20,80],[-12,81.5],[-24,82.5],[-35,83.6],[-50,82.5],[-62,81.5],[-68,80.3],[-65,79.5]]],
    ["Belize", [[-89.1,17.9],[-88.3,18.5],[-88.2,16.2],[-89.2,15.9]]],
    ["Guyana", [[-60,8.5],[-57.2,6],[-58,4],[-56.5,1.9],[-58.8,1.3],[-59.9,2.5],[-59.8,4],[-60.7,5.2],[-61,6.7]]],
    ["Western Sahara", [[-13,27.7],[-8.7,27.7],[-8.7,26],[-12,26],[-12,23.5],[-13,23],[-13,21.3],[-17,21.3],[-16,23.5],[-14.5,26]]],
    ["South Sudan", [[24,8.7],[27,9.6],[28,9.5],[32.4,11],[32.8,12.2],[34.2,10.5],[33,7.8],[35,5.4],[34,4.2],[31,3.7],[28,4.4],[27,5],[25,7.2]]],
    ["North Korea", [[124.3,40],[126.9,41.8],[128,42],[130.7,42.3],[129.7,40.8],[127.5,39.7],[128.3,38.6],[126.7,37.8],[125,38]]],
    ["Taiwan", [[121,25.3],[122,25],[120.9,22],[120.1,23]]],
    ["Israel", [[34.3,31.3],[35,33.1],[35.8,33.2],[35.5,32.5],[35,29.5]]],
    ["Cyprus", [[32.3,35],[34.5,35.6],[33.5,34.7]]],
    ["Bhutan", [[88.9,27.3],[92,27.8],[92,26.8],[89.8,26.7]]]
];

// lakes left white on top of the land
var lakes = [
    [[-92,46.8],[-88,48.8],[-85,47.8],[-84.7,46.5],[-87.5,46.5]],
    [[-87.8,42],[-87,45.5],[-85,46],[-85.5,44.5],[-86.3,42]],
    [[-84.5,46],[-81,46],[-80,44.6],[-81.7,43],[-83.5,44]],
    [[-83.4,41.7],[-79,42.6],[-79,42.9],[-83,42.2]],
    [[-79.7,43.4],[-76.3,44],[-76.2,43.5],[-79,43.2]],
    [[-125,66.5],[-119,67],[-118,65.5],[-123,65]],
    [[-117,61],[-109,62.8],[-112,62.6],[-116,61.8]],
    [[-98,53.5],[-97,50.5],[-96.5,51],[-97,53.5]],
    [[58.5,46.5],[61,46.5],[60,44],[58.5,44]],
    [[104,51.6],[106,52],[109.5,55.5],[109.5,55.8],[108,54],[105,52.2]],
    [[73.5,45.5],[78,46.7],[79,46.2],[75,45]],
    [[31.8,-0.5],[34,0.4],[34,-2],[32,-2.7]],
    [[29.2,-3.5],[29.7,-3.5],[31,-8],[30.3,-8]],
    [[34.3,-10],[34.8,-11],[35,-14],[34.5,-13]],
    [[30.5,60],[33,60.5],[32,61.5],[30.5,61.2]]
];

// robinson table, every 5 degrees of latitude
var robLat = d3.range(0, 95, 5);
var robPlen = [1, .9986, .9954, .99, .9822, .973, .96, .9427, .9216, .8962, .8679, .835, .7986, .7597, .7186, .6732, .6213, .5722, .5322];
var robPdfe = [0, .062, .124, .186, .248, .31, .372, .434, .4958, .5571, .6176, .6769, .7346, .7903, .8435, .8936, .9394, .9761, 1];

var svgWidth = 2000;
var svgHeight = 1204;

var svg = d3.select("#chart")
    .append("svg")
    .attr("width", svgWidth)
    .attr("height", svgHeight);

// d3 core has no robinson, so build it from the table
var plen = d3.scaleLinear().domain(robLat).range(robPlen);
var pdfe = d3.scaleLinear().domain(robLat).range(robPdfe);
var radius = 476, centerLon = 11, centerX = 969.5, equatorY = 725;

function robinson(lon, lat) {
    var a = Math.abs(lat);
    return [
        centerX + 0.8487 * radius * plen(a) * (lon - centerLon) * Math.PI / 180,
        equatorY - (lat < 0 ? -1 : 1) * 1.3523 * radius * pdfe(a)
    ];
}

var path = d3.geoPath(d3.geoTransform({
    point: function(lon, lat) {
        var p = robinson(lon, lat);
        this.stream.point(p[0], p[1]);
    }
}));

function ringPath(ring) {
    return path({ type: "Polygon", coordinates: [ring.concat([ring[0]])] });
}

svg.append("clipPath").attr("id", "mapClip")
    .append("rect").attr("x", 24).attr("y", 20).attr("width", 1942).attr("height", 1170);

// top and bottom rules
svg.append("line").attr("x1", 24).attr("x2", 1966).attr("y1", 18).attr("y2", 18)
    .attr("stroke", "#555").attr("stroke-width", 2);
svg.append("line").attr("x1", 24).attr("x2", 1966).attr("y1", 1192).attr("y2", 1192)
    .attr("stroke", "#333").attr("stroke-width", 2);

// equator goes under the land
svg.append("line").attr("x1", 84).attr("x2", 1915).attr("y1", equatorY).attr("y2", equatorY)
    .attr("stroke", "#222").attr("stroke-width", 1.4).attr("stroke-dasharray", "5,3");

var mapGroup = svg.append("g").attr("clip-path", "url(#mapClip)");

function drawBand(shapes, color) {
    mapGroup.append("g").selectAll("path")
        .data(shapes)
        .enter()
        .append("path")
        .attr("d", d => ringPath(d[1]))
        .attr("fill", color)
        .attr("stroke", "#fff")
        .attr("stroke-width", 1.1)
        .attr("stroke-linejoin", "round");
}

[band0, band1, band2, band3, band4, band5, band6].forEach(function(shapes, i) {
    drawBand(shapes, bandColors[i]);
});
drawBand(noData, noDataColor);

mapGroup.append("g").selectAll("path")
    .data(lakes)
    .enter()
    .append("path")
    .attr("d", ringPath)
    .attr("fill", "#fff");

// circles, area follows the number of people
var rScale = d3.scaleSqrt().domain([0, d3.max(topValues)]).range([0, 135]);

svg.append("g").selectAll("circle")
    .data(topValues)
    .enter()
    .append("circle")
    .attr("cx", (d, i) => robinson(topLon[i], topLat[i])[0])
    .attr("cy", (d, i) => robinson(topLon[i], topLat[i])[1])
    .attr("r", d => rScale(d))
    .attr("fill", "none")
    .attr("stroke", "#231f1c")
    .attr("stroke-width", 5);

// key circle
svg.append("circle").attr("cx", 71).attr("cy", 950).attr("r", 47)
    .attr("fill", "none").attr("stroke", "#231f1c").attr("stroke-width", 4);

// leader lines
var leaders = [
    "M692,577H802", "M1369,136V420", "M1550,121H1515V516", "M1733,505H1797", "M1603,562H1797",
    "M1638,608H1797", "M935,687L858,760", "M1191,680L1251,740", "M1038,765L966,836", "M1441,691V801"
];
svg.append("g").selectAll("path")
    .data(leaders)
    .enter()
    .append("path")
    .attr("d", d => d)
    .attr("fill", "none")
    .attr("stroke", "#231f1c")
    .attr("stroke-width", 1.5);

// all text starts at a left edge and is fitted to the width
function label(x, y, str, size, width, weight, cls, fill) {
    var t = svg.append("text")
        .attr("x", x)
        .attr("y", y)
        .attr("font-size", size)
        .attr("font-weight", weight || 400)
        .text(str);
    if (width) t.attr("textLength", width).attr("lengthAdjust", "spacingAndGlyphs");
    if (cls) t.attr("class", cls);
    if (fill) t.style("fill", fill);
    return t;
}

var fmt = d3.formatLocale({ decimal: ",", thousands: " ", grouping: [3], currency: ["", ""] }).format(",");

// title, the year comes from a font that has old style figures
var title = svg.append("text")
    .attr("x", 26)
    .attr("y", 78)
    .attr("font-size", 58)
    .attr("textLength", 979)
    .attr("lengthAdjust", "spacingAndGlyphs")
    .style("font-style", "italic")
    .style("font-weight", 700)
    .style("stroke", "#231f1c")
    .style("stroke-width", 1);
title.append("tspan").style("font-family", "'DejaVu Serif', serif").text("L’esclavage dans le monde en ");
title.append("tspan").attr("class", "old").style("font-weight", 800).text("2013");

// country labels: left, baseline and width for name, then for number
label(1301, 96, "PAKISTAN", 25, 138, 800);
label(1315, 126, fmt(topValues[2]), 29, 106, 400, "old");
label(1507, 96, "BANGLADESH", 25, 191, 800);
label(1555, 126, fmt(topValues[9]), 29, 94, 400, "old");
label(1203, 249, "RUSSIE", 25, 98, 800);
label(1203, 281, fmt(topValues[5]), 29, 87, 400, "old");
label(1800, 480, "CHINE", 25, 88, 800);
label(1800, 511, fmt(topValues[1]), 29, 120, 400, "old");
label(1800, 552, "BIRMANIE", 25, 141, 800);
label(1800, 584, fmt(topValues[8]), 29, 99, 400, "old");
label(1800, 625, "THAÏLANDE", 25, 162, 800);
label(1800, 655, fmt(topValues[6]), 29, 86, 400, "old");
label(737, 784, "NIGERIA", 25, 118, 800);
label(746, 813, fmt(topValues[3]), 29, 98, 400, "old");
label(827, 861, "RÉP. DÉM.", 25, 136, 800);
label(820, 888, "DU CONGO", 25, 149, 800);
label(847, 920, fmt(topValues[7]), 29, 96, 400, "old");
label(1256, 760, "ÉTHIOPIE", 25, 128, 800);
label(1275, 788, fmt(topValues[4]), 29, 88, 400, "old");
label(1390, 840, "INDE", 38, 101, 800);
label(1338, 886, fmt(topValues[0]), 48, 203, 400, "old");
label(517, 536, "MAURITANIE", 39, 262, 800, null, "#e8101e");
label(600, 584, "4 %*", 42, 92, 300, null, "#e8101e");

// size key
label(21, 1025, "Nombre de", 31, 170, 700);
label(21, 1061, "personnes asservies", 31, 312, 700);
label(21, 1098, "(top 10 des Etats totalisant", 31, 390, 400, "old");
label(21, 1135, "le plus grand nombre", 31, 307, 400);
label(21, 1171, "d’esclaves)", 31, 157, 400);

// colour key
label(633, 1089, "Part de la population asservie", 31, 462, 700);
label(1107, 1089, "(en % par pays)", 31, 228, 400);

var bandScale = d3.scaleLinear().domain([0, bandColors.length]).range([628, 1146]);

svg.append("g").selectAll("rect")
    .data(bandColors)
    .enter()
    .append("rect")
    .attr("x", (d, i) => bandScale(i))
    .attr("y", 1115)
    .attr("width", bandScale(1) - bandScale(0))
    .attr("height", 26)
    .attr("fill", d => d);

svg.append("rect").attr("x", 628).attr("y", 1115).attr("width", 518).attr("height", 26)
    .attr("fill", "none").attr("stroke", "#555").attr("stroke-width", 1.5);

var bandAxis = d3.axisBottom(bandScale)
    .tickValues(d3.range(1, bandColors.length))
    .tickFormat((d, i) => bandTicks[i])
    .tickSize(36)
    .tickPadding(-2);

var axisGroup = svg.append("g")
    .attr("transform", "translate(0,1115)")
    .call(bandAxis);
axisGroup.select(".domain").remove();
axisGroup.selectAll("line").attr("stroke", "#231f1c").attr("stroke-width", 1.5);
axisGroup.selectAll("text")
    .attr("class", "old")
    .attr("font-size", 30)
    .attr("dy", "0.87em");

svg.append("rect").attr("x", 1218).attr("y", 1115).attr("width", 75).attr("height", 26)
    .attr("fill", noDataColor).attr("stroke", "#555").attr("stroke-width", 1.5);
label(1300, 1136, "Pas de", 29, 83, 400);
label(1300, 1174, "données", 29, 108, 400);
label(1451, 1136, "* Etat ayant la proportion d’esclaves", 29, 464, 400);
label(1472, 1174, "la plus importante", 29, 236, 400);

// sources run up the right edge
svg.append("text")
    .attr("transform", "translate(1992,1195) rotate(-90)")
    .attr("font-size", 17)
    .attr("textLength", 800)
    .attr("lengthAdjust", "spacingAndGlyphs")
    .text("SOURCES : “WASHINGTON POST”, “THE GLOBAL SLAVER INDEX REPORT 2013” (WALK FREE)");
</script>
</body>
</html>
